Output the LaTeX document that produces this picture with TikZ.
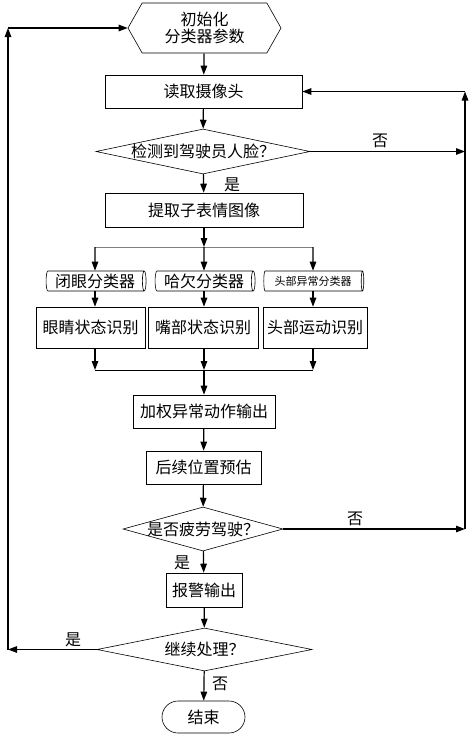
\documentclass[tikz,border=0pt]{standalone}
\usepackage{fontspec}
\setmainfont{Noto Sans CJK SC}
\usetikzlibrary{arrows.meta,shapes.geometric,shapes.misc,shapes.symbols}

\newcommand{\zhsize}{\fontsize{16}{19}\selectfont}
\tikzset{
  arr/.style={line width=1.2pt,-{Triangle[length=9pt,width=6.5pt]}},
  box/.style={draw,line width=0.6pt,inner sep=0pt,font=\zhsize},
  hexa/.style={signal,signal to=west and east,signal pointer angle=121,draw,line width=0.6pt,
    inner sep=0pt,align=center,font=\zhsize,minimum width=153pt,minimum height=50pt},
  decide/.style={diamond,draw,line width=0.6pt,inner sep=-1pt,font=\zhsize},
  cyl/.style={cylinder,draw,line width=0.6pt,inner sep=0pt,aspect=0.25,
    minimum width=20pt,minimum height=100pt,font=\zhsize},
  term/.style={rounded rectangle,draw,line width=0.6pt,inner sep=0pt,font=\zhsize},
  lbl/.style={font=\zhsize,inner sep=0pt}
}

\begin{document}
\begin{tikzpicture}[x=1pt,y=1pt,yscale=-1]
\useasboundingbox (0,0) rectangle (474,739);

% Main column
\node[hexa] (init) at (204.5,28) {初始化\\[-2pt]分类器参数};
\node[box,minimum width=197pt,minimum height=33pt] (read) at (203.5,91.5) {读取摄像头};
\node[decide,aspect=4.75,minimum width=214pt,minimum height=45pt] (detect) at (203,151.5) {检测到驾驶员人脸？};
\node[box,minimum width=198pt,minimum height=34pt] (extract) at (204,210) {提取子表情图像};

% Classifiers
\node[cyl] (cls1) at (95,281) {闭眼分类器};
\node[cyl] (cls2) at (204,281) {哈欠分类器};
\node[cyl,font=\fontsize{11}{13}\selectfont] (cls3) at (313,281) {头部异常分类器};

% Recognition boxes
\node[box,minimum width=109pt,minimum height=41pt] (rec1) at (90.5,327.5) {眼睛状态识别};
\node[box,minimum width=110pt,minimum height=41pt] (rec2) at (203,327.5) {嘴部状态识别};
\node[box,minimum width=104pt,minimum height=41pt] (rec3) at (315,327.5) {头部运动识别};

\node[box,minimum width=142pt,minimum height=33pt] (weight) at (204,411.5) {加权异常动作输出};
\node[box,minimum width=115pt,minimum height=33pt] (pos) at (203.5,467.5) {后续位置预估};
\node[decide,aspect=3.6,minimum width=160pt,minimum height=44pt] (fatigue) at (203,529) {是否疲劳驾驶？};
\node[box,minimum width=76pt,minimum height=34pt] (alarm) at (204,590) {报警输出};
\node[decide,aspect=5,minimum width=215pt,minimum height=43pt] (cont) at (204.5,649.5) {继续处理？};
\node[term,minimum width=83pt,minimum height=32pt] (end) at (203.5,717) {结束};

% Split and merge points
\coordinate (sp) at (204,247);
\coordinate (mg) at (204,370);
\coordinate (lc1) at (8,649.5);
\coordinate (lc2) at (8,28);
\coordinate (rc1) at (465,151.5);
\coordinate (rc2) at (465,529);
\coordinate (rc3) at (465,91.5);

% Straight Lines
\draw[arr] (init) -- (read);
\draw[arr] (read) -- (detect);
\draw[arr] (detect) -- (extract);
\draw[arr] (extract) -- (sp);
\draw[line width=0.6pt,gray] (sp -| cls1) -- (sp -| cls3);
\foreach \c/\r in {cls1/rec1,cls2/rec2,cls3/rec3}{
  \draw[arr] (sp -| \c) -- (\c.north);
  \draw[arr] (\c.south) -- (\c.south |- \r.north);
  \draw[arr] (\c |- \r.south) -- (mg -| \c);
}
\draw[line width=0.6pt] (mg -| cls1) -- (mg -| cls3);
\draw[arr] (mg) -- (weight);
\draw[arr] (weight) -- (pos);
\draw[arr] (pos) -- (fatigue);
\draw[arr] (fatigue) -- (alarm);
\draw[arr] (alarm) -- (cont);
\draw[arr] (cont) -- (end);

% Loops
\draw[arr] (cont.west) -- (lc1);
\draw[arr] (lc1) -- (lc2);
\draw[arr] (lc2) -- (init.west);
\draw[arr] (detect.east) -- (rc1);
\draw[arr] (fatigue.east) -- (rc2);
\draw[arr] (rc2) -- (rc3);
\draw[arr] (rc3) -- (read.east);

% Text Node
\node[lbl] (no1) at (380,141) {否};
\node[lbl] (yes1) at (232,185) {是};
\node[lbl] (no2) at (355,519) {否};
\node[lbl] (yes2) at (182,563) {是};
\node[lbl] (yes3) at (73,640) {是};
\node[lbl] (no3) at (220,684) {否};

\end{tikzpicture}
\end{document}
